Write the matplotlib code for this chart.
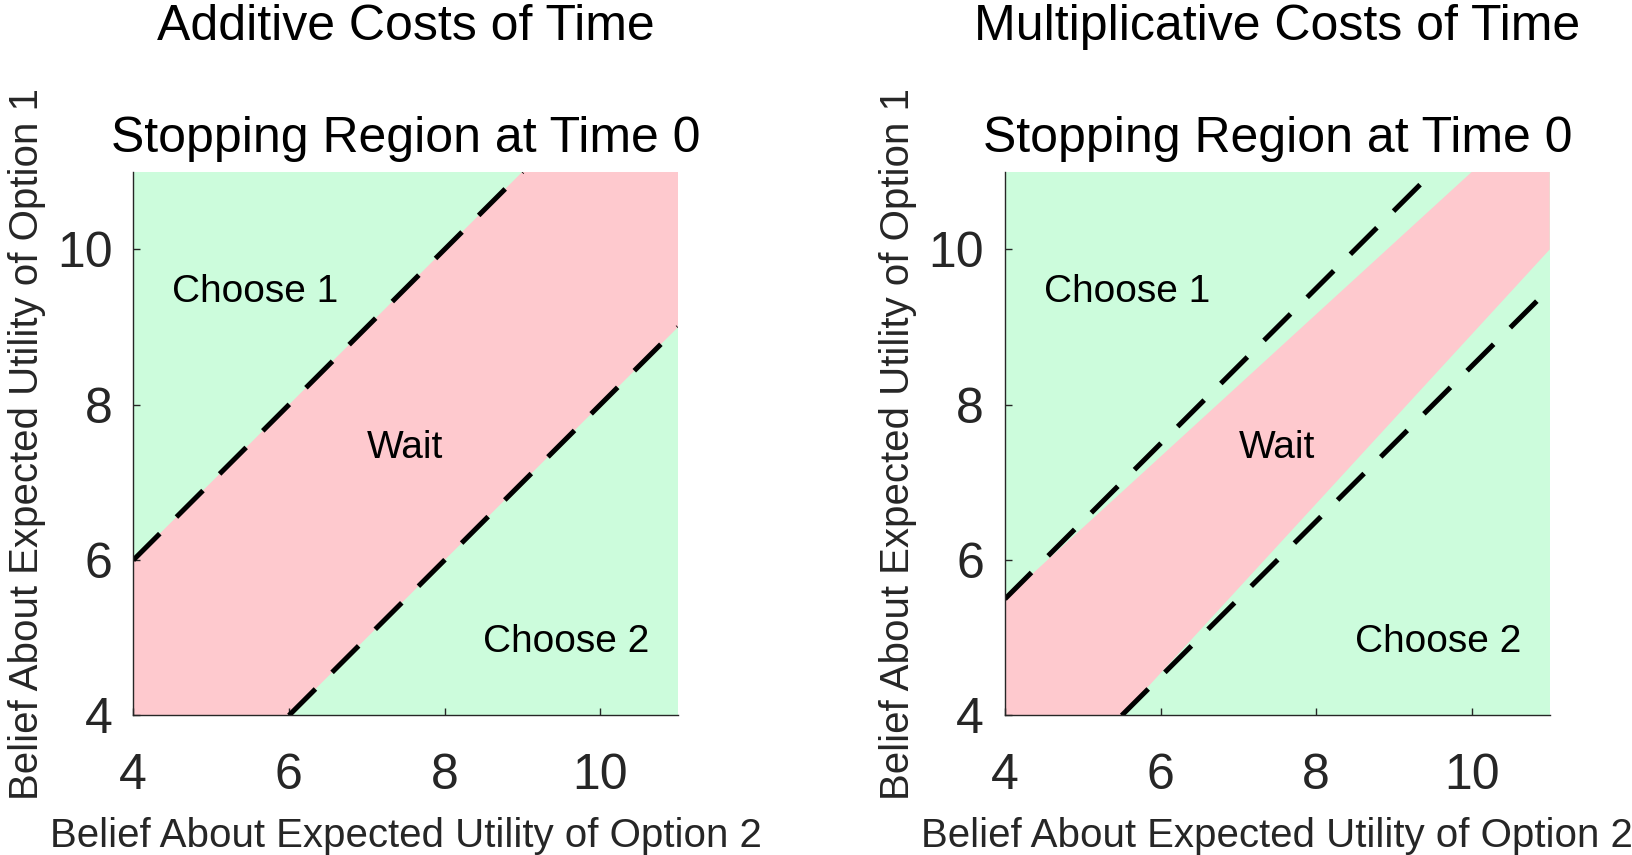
import numpy as np
import matplotlib
matplotlib.use('Agg')
import matplotlib.pyplot as plt

plt.rcParams['font.family'] = ['Liberation Sans', 'DejaVu Sans']

# axis range / ticks
lims = [4, 11]
ticks = [4, 6, 8, 10]

# additive costs: wait region polygon and the two dashed boundaries
add_wait_x = [4, 4, 9, 11, 11, 6]
add_wait_y = [4, 6, 11, 11, 9, 4]
add_up_x = [4, 9]
add_up_y = [6, 11]
add_lo_x = [6, 11]
add_lo_y = [4, 9]

# multiplicative costs
mul_wait_x = [4, 4, 10, 11, 11, 5.5]
mul_wait_y = [4, 5.5, 11, 11, 10, 4]
mul_up_x = [4, 9.5]
mul_up_y = [5.5, 11]
mul_lo_x = [5.5, 11]
mul_lo_y = [4, 9.5]

titles = ['Additive Costs of Time', 'Multiplicative Costs of Time']
subtitle = 'Stopping Region at Time 0'
region_labels = ['Choose 1', 'Wait', 'Choose 2']
label_pos = [(4.5, 9.45), (7.0, 7.45), (8.5, 4.95)]

green = '#ccfcdc'
red = '#fec9ce'
grey = '#262626'

fig = plt.figure(figsize=(16.33, 8.55), dpi=100)
ax1 = fig.add_axes([0.0816, 0.1632, 0.3336, 0.6359])
ax2 = fig.add_axes([0.6154, 0.1632, 0.3336, 0.6359])

panels = [
    (ax1, add_wait_x, add_wait_y, add_up_x, add_up_y, add_lo_x, add_lo_y),
    (ax2, mul_wait_x, mul_wait_y, mul_up_x, mul_up_y, mul_lo_x, mul_lo_y),
]

for i, (ax, wx, wy, ux, uy, lx, ly) in enumerate(panels):
    ax.set_facecolor(green)
    ax.fill(wx, wy, color=red, lw=0)
    for xs, ys in [(ux, uy), (lx, ly)]:
        ax.plot(xs, ys, color='black', lw=3.6, dashes=(7.5, 4.7))
    for txt, (tx, ty) in zip(region_labels, label_pos):
        ax.text(tx, ty, txt, fontsize=28, ha='left', va='center', color='black')

    ax.set_xlim(lims)
    ax.set_ylim(lims)
    ax.set_xticks(ticks)
    ax.set_yticks(ticks)
    for s in ['top', 'right']:
        ax.spines[s].set_visible(False)
    for s in ['left', 'bottom']:
        ax.spines[s].set_color(grey)
        ax.spines[s].set_linewidth(1.0)
    ax.tick_params(direction='in', length=5, width=1, colors=grey, labelsize=36)
    ax.tick_params(axis='x', pad=27)
    ax.tick_params(axis='y', pad=15)

    ax.set_xlabel('Belief About Expected Utility of Option 2', fontsize=29, color=grey, va='top')
    ax.set_ylabel('Belief About Expected Utility of Option 1', fontsize=29, color=grey)
    ax.xaxis.set_label_coords(0.5, -0.186)
    ax.yaxis.set_label_coords(-0.161, 0.5)

    ax.text(0.5, 1.2415, titles[i], transform=ax.transAxes, fontsize=36,
            ha='center', va='baseline')
    ax.text(0.5, 1.036, subtitle, transform=ax.transAxes, fontsize=36,
            ha='center', va='baseline')

fig.savefig('out.png', dpi=100)
